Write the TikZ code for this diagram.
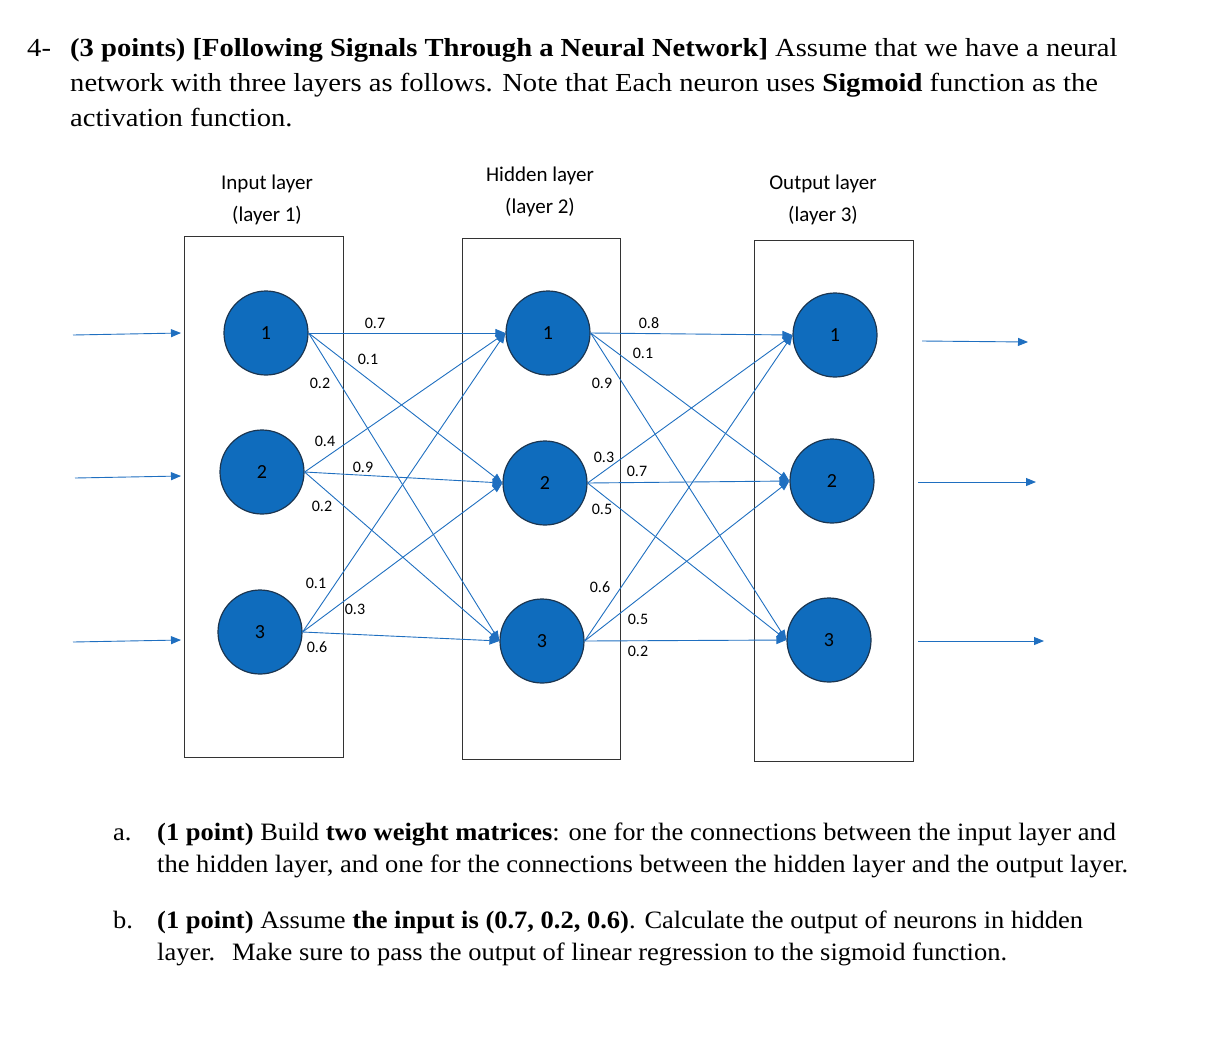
\documentclass[tikz,border=0pt]{standalone}
\usepackage{fontspec}
\setmainfont{Liberation Serif}
\newfontfamily\cfont{Carlito}
\usetikzlibrary{arrows.meta}
\definecolor{ln}{HTML}{1F6FC0}
\definecolor{nf}{HTML}{0F6CBD}
\definecolor{nb}{HTML}{1B3550}
\begin{document}
\begin{tikzpicture}[x=1pt,y=-1pt,
 neu/.style={circle,draw=nb,line width=1.2pt,fill=nf,minimum size=84pt,inner sep=0pt,font=\cfont\fontsize{20}{20}\selectfont},
 con/.style={draw=ln,line width=0.9pt,-{Triangle[length=10pt,width=8pt]}},
 box/.style={draw=black!80,line width=0.9pt},
 lay/.style={font=\cfont\fontsize{21}{32}\selectfont,align=center},
 w/.style={font=\cfont\fontsize{16}{16}\selectfont,inner sep=0pt},
 txt/.style={font=\fontsize{26}{26}\selectfont,anchor=base west,inner sep=0pt,xscale=1.1},
 txb/.style={font=\fontsize{25}{25}\selectfont,anchor=base west,inner sep=0pt,xscale=1.06}]
\useasboundingbox (0,0) rectangle (1212,1042);
\node[txt] at (27,56) {4-};
\node[txt] at (70,56) {\textbf{(3 points) [Following Signals Through a Neural Network]} Assume that we have a neural};
\node[txt] at (70,91) {network with three layers as follows. Note that Each neuron uses \textbf{Sigmoid} function as the};
\node[txt] at (70,126) {activation function.};
\draw[box] (184,236) rectangle (343,757);
\draw[box] (462,238) rectangle (620,759);
\draw[box] (754,240) rectangle (913,761);
\node[lay] at (267,200) {Input layer\\(layer 1)};
\node[lay] at (540,192) {Hidden layer\\(layer 2)};
\node[lay] at (823,200) {Output layer\\(layer 3)};
\node[neu] (i1) at (266,333) {1};
\node[neu] (i2) at (262,472) {2};
\node[neu] (i3) at (260,632) {3};
\node[neu] (h1) at (548,333) {1};
\node[neu] (h2) at (545,483) {2};
\node[neu] (h3) at (542,641) {3};
\node[neu] (o1) at (835,335) {1};
\node[neu] (o2) at (832,481) {2};
\node[neu] (o3) at (829,640) {3};
\coordinate (a1) at (73,335); \coordinate (a2) at (75,478); \coordinate (a3) at (73,642);
\coordinate (d1) at (181,333); \coordinate (d2) at (181,476); \coordinate (d3) at (181,640);
\coordinate (b1) at (1028,342); \coordinate (b2) at (1036,482); \coordinate (b3) at (1044,641);
\coordinate (c1) at (922,341); \coordinate (c2) at (918,482); \coordinate (c3) at (918,641);
\draw[con] (a1) -- (d1); \draw[con] (a2) -- (d2); \draw[con] (a3) -- (d3);
\draw[con] (c1) -- (b1); \draw[con] (c2) -- (b2); \draw[con] (c3) -- (b3);
\foreach \s in {i1,i2,i3} \foreach \t in {h1,h2,h3} \draw[con] (\s.east) -- (\t.west);
\foreach \s in {h1,h2,h3} \foreach \t in {o1,o2,o3} \draw[con] (\s.east) -- (\t.west);
\node[w] at (375,323) {0.7}; \node[w] at (368,359) {0.1}; \node[w] at (320,383) {0.2};
\node[w] at (325,441) {0.4}; \node[w] at (363,467) {0.9}; \node[w] at (322,506) {0.2};
\node[w] at (316,583) {0.1}; \node[w] at (355,609) {0.3}; \node[w] at (317,647) {0.6};
\node[w] at (649,323) {0.8}; \node[w] at (643,353) {0.1}; \node[w] at (602,383) {0.9};
\node[w] at (604,457) {0.3}; \node[w] at (637,471) {0.7}; \node[w] at (602,509) {0.5};
\node[w] at (600,587) {0.6}; \node[w] at (638,619) {0.5}; \node[w] at (638,651) {0.2};
\node[txb] at (113,840) {a.};
\node[txb] at (157,840) {\textbf{(1 point)} Build \textbf{two weight matrices}: one for the connections between the input layer and};
\node[txb] at (157,872) {the hidden layer, and one for the connections between the hidden layer and the output layer.};
\node[txb] at (113,928) {b.};
\node[txb] at (157,928) {\textbf{(1 point)} Assume \textbf{the input is (0.7, 0.2, 0.6)}. Calculate the output of neurons in hidden};
\node[txb] at (157,960) {layer.\hspace{0.3em} Make sure to pass the output of linear regression to the sigmoid function.};
\end{tikzpicture}
\end{document}
